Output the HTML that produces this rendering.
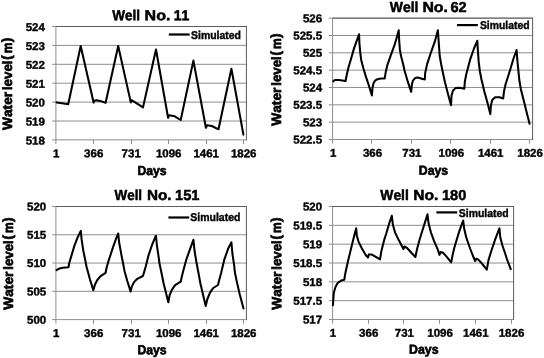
<!DOCTYPE html>
<html><head><meta charset="utf-8"><title>Simulated water level</title>
<style>
html,body{margin:0;padding:0;background:#fff;}
svg{display:block;}
text{font-family:"Liberation Sans", sans-serif;font-weight:bold;fill:#000;stroke:#000;font-kerning:none;text-rendering:geometricPrecision;}

</style></head>
<body>
<svg width="544" height="358" viewBox="0 0 544 358">
<rect x="0" y="0" width="544" height="358" fill="#fff"/>
<line x1="52.10" y1="26.50" x2="246.4" y2="26.50" stroke="#8e8e8e" stroke-width="1"/>
<line x1="52.10" y1="45.40" x2="246.4" y2="45.40" stroke="#8e8e8e" stroke-width="1"/>
<line x1="52.10" y1="64.30" x2="246.4" y2="64.30" stroke="#8e8e8e" stroke-width="1"/>
<line x1="52.10" y1="83.20" x2="246.4" y2="83.20" stroke="#8e8e8e" stroke-width="1"/>
<line x1="52.10" y1="102.10" x2="246.4" y2="102.10" stroke="#8e8e8e" stroke-width="1"/>
<line x1="52.10" y1="121.00" x2="246.4" y2="121.00" stroke="#8e8e8e" stroke-width="1"/>
<line x1="52.10" y1="139.90" x2="246.4" y2="139.90" stroke="#8e8e8e" stroke-width="1"/>
<line x1="55.9" y1="26.5" x2="55.9" y2="139.9" stroke="#8e8e8e" stroke-width="1"/>
<line x1="246.4" y1="26.0" x2="246.4" y2="140.4" stroke="#5c5c5c" stroke-width="1"/>
<line x1="55.9" y1="26.5" x2="246.4" y2="26.5" stroke="#5c5c5c" stroke-width="1"/>
<line x1="55.90" y1="139.9" x2="55.90" y2="144.0" stroke="#8c8c8c" stroke-width="1"/>
<text transform="translate(53.00,157.25) rotate(0.03)" font-size="11.3" stroke-width="0.4" textLength="6.40" lengthAdjust="spacingAndGlyphs">1</text>
<line x1="93.50" y1="139.9" x2="93.50" y2="144.0" stroke="#8c8c8c" stroke-width="1"/>
<text transform="translate(84.10,157.25) rotate(0.03)" font-size="11.3" stroke-width="0.4" textLength="19.20" lengthAdjust="spacingAndGlyphs">366</text>
<line x1="131.50" y1="139.9" x2="131.50" y2="144.0" stroke="#8c8c8c" stroke-width="1"/>
<text transform="translate(121.60,157.25) rotate(0.03)" font-size="11.3" stroke-width="0.4" textLength="19.20" lengthAdjust="spacingAndGlyphs">731</text>
<line x1="168.50" y1="139.9" x2="168.50" y2="144.0" stroke="#8c8c8c" stroke-width="1"/>
<text transform="translate(155.90,157.25) rotate(0.03)" font-size="11.3" stroke-width="0.4" textLength="25.60" lengthAdjust="spacingAndGlyphs">1096</text>
<line x1="206.50" y1="139.9" x2="206.50" y2="144.0" stroke="#8c8c8c" stroke-width="1"/>
<text transform="translate(193.40,157.25) rotate(0.03)" font-size="11.3" stroke-width="0.4" textLength="25.60" lengthAdjust="spacingAndGlyphs">1461</text>
<line x1="243.50" y1="139.9" x2="243.50" y2="144.0" stroke="#8c8c8c" stroke-width="1"/>
<text transform="translate(230.90,157.25) rotate(0.03)" font-size="11.3" stroke-width="0.4" textLength="25.60" lengthAdjust="spacingAndGlyphs">1826</text>
<text transform="translate(25.70,31.00) rotate(0.03)" font-size="11.3" stroke-width="0.4" textLength="19.20" lengthAdjust="spacingAndGlyphs">524</text>
<text transform="translate(25.70,50.00) rotate(0.03)" font-size="11.3" stroke-width="0.4" textLength="19.20" lengthAdjust="spacingAndGlyphs">523</text>
<text transform="translate(25.70,68.75) rotate(0.03)" font-size="11.3" stroke-width="0.4" textLength="19.20" lengthAdjust="spacingAndGlyphs">522</text>
<text transform="translate(25.70,87.75) rotate(0.03)" font-size="11.3" stroke-width="0.4" textLength="19.20" lengthAdjust="spacingAndGlyphs">521</text>
<text transform="translate(25.70,106.50) rotate(0.03)" font-size="11.3" stroke-width="0.4" textLength="19.20" lengthAdjust="spacingAndGlyphs">520</text>
<text transform="translate(25.70,125.50) rotate(0.03)" font-size="11.3" stroke-width="0.4" textLength="19.20" lengthAdjust="spacingAndGlyphs">519</text>
<text transform="translate(25.70,144.50) rotate(0.03)" font-size="11.3" stroke-width="0.4" textLength="19.20" lengthAdjust="spacingAndGlyphs">518</text>
<text transform="translate(112.14,20.25) rotate(0.03)" font-size="14.4" stroke-width="0.5"><tspan x="0.00" textLength="27.77" lengthAdjust="spacingAndGlyphs">Well</tspan> <tspan x="32.44" textLength="25.77" lengthAdjust="spacingAndGlyphs">No.</tspan> <tspan x="61.63" textLength="15.57" lengthAdjust="spacingAndGlyphs">11</tspan></text>
<text transform="translate(137.41,175.00) rotate(0.03)" font-size="13.0" stroke-width="0.65" textLength="29.17" lengthAdjust="spacingAndGlyphs">Days</text>
<text transform="translate(12.00,84.00) rotate(-89.97)" font-size="13.5" stroke-width="0.65"><tspan x="-45.99" y="0.00" textLength="38.07" lengthAdjust="spacingAndGlyphs">Water</tspan> <tspan x="-6.10" y="0.00" textLength="29.62" lengthAdjust="spacingAndGlyphs">level</tspan> <tspan x="24.13" y="-0.75">(</tspan><tspan x="30.63" y="0.00" textLength="10.69" lengthAdjust="spacingAndGlyphs">m</tspan><tspan x="41.78" y="-0.75">)</tspan></text>
<line x1="168.8" y1="34.5" x2="189.60000000000002" y2="34.5" stroke="#000" stroke-width="2.2"/>
<text transform="translate(191.00,39.00) rotate(0.03)" font-size="11.3" stroke-width="0.4" textLength="49.99" lengthAdjust="spacingAndGlyphs">Simulated</text>
<polyline points="56.6,102.4 62.1,103.2 68.2,104.3 80.7,46.0 93.6,102.6 94.2,100.7 96.7,100.3 100.0,100.9 105.6,102.8 118.2,46.0 130.8,102.4 131.6,100.2 143.0,107.4 156.0,49.5 168.1,117.8 169.2,115.3 174.8,116.3 180.7,120.0 193.4,60.6 205.9,127.8 207.0,125.3 211.9,126.0 218.5,129.3 231.4,68.7 243.4,134.6" fill="none" stroke="#000" stroke-width="2.05" stroke-linejoin="round" stroke-linecap="round"/>
<line x1="328.80" y1="18.15" x2="532.6" y2="18.15" stroke="#8e8e8e" stroke-width="1"/>
<line x1="328.80" y1="35.49" x2="532.6" y2="35.49" stroke="#8e8e8e" stroke-width="1"/>
<line x1="328.80" y1="52.82" x2="532.6" y2="52.82" stroke="#8e8e8e" stroke-width="1"/>
<line x1="328.80" y1="70.16" x2="532.6" y2="70.16" stroke="#8e8e8e" stroke-width="1"/>
<line x1="328.80" y1="87.49" x2="532.6" y2="87.49" stroke="#8e8e8e" stroke-width="1"/>
<line x1="328.80" y1="104.83" x2="532.6" y2="104.83" stroke="#8e8e8e" stroke-width="1"/>
<line x1="328.80" y1="122.16" x2="532.6" y2="122.16" stroke="#8e8e8e" stroke-width="1"/>
<line x1="328.80" y1="139.50" x2="532.6" y2="139.50" stroke="#8e8e8e" stroke-width="1"/>
<line x1="332.6" y1="18.15" x2="332.6" y2="139.5" stroke="#8e8e8e" stroke-width="1"/>
<line x1="532.6" y1="17.65" x2="532.6" y2="140.0" stroke="#5c5c5c" stroke-width="1"/>
<line x1="332.6" y1="18.15" x2="532.6" y2="18.15" stroke="#5c5c5c" stroke-width="1"/>
<line x1="332.60" y1="139.5" x2="332.60" y2="143.6" stroke="#8c8c8c" stroke-width="1"/>
<text transform="translate(329.90,156.75) rotate(0.03)" font-size="11.3" stroke-width="0.4" textLength="6.40" lengthAdjust="spacingAndGlyphs">1</text>
<line x1="371.50" y1="139.5" x2="371.50" y2="143.6" stroke="#8c8c8c" stroke-width="1"/>
<text transform="translate(362.90,156.75) rotate(0.03)" font-size="11.3" stroke-width="0.4" textLength="19.20" lengthAdjust="spacingAndGlyphs">366</text>
<line x1="411.50" y1="139.5" x2="411.50" y2="143.6" stroke="#8c8c8c" stroke-width="1"/>
<text transform="translate(402.30,156.75) rotate(0.03)" font-size="11.3" stroke-width="0.4" textLength="19.20" lengthAdjust="spacingAndGlyphs">731</text>
<line x1="450.50" y1="139.5" x2="450.50" y2="143.6" stroke="#8c8c8c" stroke-width="1"/>
<text transform="translate(438.50,156.75) rotate(0.03)" font-size="11.3" stroke-width="0.4" textLength="25.60" lengthAdjust="spacingAndGlyphs">1096</text>
<line x1="490.50" y1="139.5" x2="490.50" y2="143.6" stroke="#8c8c8c" stroke-width="1"/>
<text transform="translate(477.90,156.75) rotate(0.03)" font-size="11.3" stroke-width="0.4" textLength="25.60" lengthAdjust="spacingAndGlyphs">1461</text>
<line x1="529.50" y1="139.5" x2="529.50" y2="143.6" stroke="#8c8c8c" stroke-width="1"/>
<text transform="translate(517.30,156.75) rotate(0.03)" font-size="11.3" stroke-width="0.4" textLength="25.60" lengthAdjust="spacingAndGlyphs">1826</text>
<text transform="translate(302.90,22.25) rotate(0.03)" font-size="11.3" stroke-width="0.4" textLength="19.20" lengthAdjust="spacingAndGlyphs">526</text>
<text transform="translate(293.30,39.50) rotate(0.03)" font-size="11.3" stroke-width="0.4" textLength="28.80" lengthAdjust="spacingAndGlyphs">525.5</text>
<text transform="translate(302.90,56.75) rotate(0.03)" font-size="11.3" stroke-width="0.4" textLength="19.20" lengthAdjust="spacingAndGlyphs">525</text>
<text transform="translate(293.30,74.25) rotate(0.03)" font-size="11.3" stroke-width="0.4" textLength="28.80" lengthAdjust="spacingAndGlyphs">524.5</text>
<text transform="translate(302.90,91.50) rotate(0.03)" font-size="11.3" stroke-width="0.4" textLength="19.20" lengthAdjust="spacingAndGlyphs">524</text>
<text transform="translate(293.30,108.75) rotate(0.03)" font-size="11.3" stroke-width="0.4" textLength="28.80" lengthAdjust="spacingAndGlyphs">523.5</text>
<text transform="translate(302.90,126.25) rotate(0.03)" font-size="11.3" stroke-width="0.4" textLength="19.20" lengthAdjust="spacingAndGlyphs">523</text>
<text transform="translate(293.30,143.50) rotate(0.03)" font-size="11.3" stroke-width="0.4" textLength="28.80" lengthAdjust="spacingAndGlyphs">522.5</text>
<text transform="translate(389.84,12.00) rotate(0.03)" font-size="14.4" stroke-width="0.5"><tspan x="0.00" textLength="28.60" lengthAdjust="spacingAndGlyphs">Well</tspan> <tspan x="32.55" textLength="25.55" lengthAdjust="spacingAndGlyphs">No.</tspan> <tspan x="60.68" textLength="16.22" lengthAdjust="spacingAndGlyphs">62</tspan></text>
<text transform="translate(418.80,174.75) rotate(0.03)" font-size="13.0" stroke-width="0.65" textLength="29.38" lengthAdjust="spacingAndGlyphs">Days</text>
<text transform="translate(281.00,79.70) rotate(-89.97)" font-size="13.5" stroke-width="0.65"><tspan x="-45.99" y="0.00" textLength="38.07" lengthAdjust="spacingAndGlyphs">Water</tspan> <tspan x="-6.10" y="0.00" textLength="29.62" lengthAdjust="spacingAndGlyphs">level</tspan> <tspan x="24.13" y="-0.75">(</tspan><tspan x="30.63" y="0.00" textLength="10.69" lengthAdjust="spacingAndGlyphs">m</tspan><tspan x="41.78" y="-0.75">)</tspan></text>
<line x1="457.0" y1="25.1" x2="477.8" y2="25.1" stroke="#000" stroke-width="2.2"/>
<text transform="translate(479.90,29.00) rotate(0.03)" font-size="11.3" stroke-width="0.4" textLength="49.63" lengthAdjust="spacingAndGlyphs">Simulated</text>
<polyline points="333.3,81.5 334.0,80.5 335.6,79.9 338.9,79.9 342.3,80.4 345.6,81.0 346.8,74.5 348.4,67.8 350.7,60.0 354.1,48.1 359.1,34.2 359.4,43.0 360.3,53.0 361.2,60.0 363.6,69.0 366.3,77.9 369.1,86.2 371.9,95.5 372.5,87.9 373.6,82.9 375.3,80.4 378.0,79.0 381.4,78.4 384.7,78.4 385.9,71.2 387.6,64.3 391.2,54.2 394.5,45.2 396.8,37.4 398.7,30.3 399.2,40.8 399.9,49.7 401.1,56.2 403.1,64.0 404.5,70.5 407.8,81.7 411.2,91.8 411.8,85.1 412.9,80.6 415.1,78.1 417.9,77.6 421.8,78.7 424.8,79.5 425.2,72.8 427.2,63.9 430.6,53.5 434.7,41.9 437.9,30.3 439.0,46.3 439.7,56.0 441.2,64.5 443.0,73.2 445.1,82.8 448.2,94.8 451.0,105.2 451.5,95.7 452.9,90.7 455.7,87.9 460.1,87.7 464.3,88.7 464.9,81.2 466.3,74.3 470.1,59.7 474.0,48.5 477.3,40.7 477.9,50.8 478.7,61.9 479.9,71.5 481.5,79.5 484.4,91.8 487.7,103.6 490.3,114.1 490.9,105.7 492.2,100.1 495.1,97.3 499.6,97.3 503.2,98.4 504.0,91.2 505.6,84.3 510.2,69.7 513.5,58.5 516.6,50.0 517.4,60.8 518.5,71.9 519.3,80.0 520.8,88.9 523.6,100.1 526.4,111.3 528.6,120.0 529.5,123.8" fill="none" stroke="#000" stroke-width="2.05" stroke-linejoin="round" stroke-linecap="round"/>
<line x1="52.10" y1="206.50" x2="246.4" y2="206.50" stroke="#8e8e8e" stroke-width="1"/>
<line x1="52.10" y1="234.78" x2="246.4" y2="234.78" stroke="#8e8e8e" stroke-width="1"/>
<line x1="52.10" y1="263.05" x2="246.4" y2="263.05" stroke="#8e8e8e" stroke-width="1"/>
<line x1="52.10" y1="291.33" x2="246.4" y2="291.33" stroke="#8e8e8e" stroke-width="1"/>
<line x1="52.10" y1="319.60" x2="246.4" y2="319.60" stroke="#8e8e8e" stroke-width="1"/>
<line x1="55.9" y1="206.5" x2="55.9" y2="319.6" stroke="#8e8e8e" stroke-width="1"/>
<line x1="246.4" y1="206.0" x2="246.4" y2="320.1" stroke="#5c5c5c" stroke-width="1"/>
<line x1="55.9" y1="206.5" x2="246.4" y2="206.5" stroke="#5c5c5c" stroke-width="1"/>
<line x1="55.90" y1="319.6" x2="55.90" y2="323.70000000000005" stroke="#8c8c8c" stroke-width="1"/>
<text transform="translate(53.00,337.00) rotate(0.03)" font-size="11.3" stroke-width="0.4" textLength="6.40" lengthAdjust="spacingAndGlyphs">1</text>
<line x1="93.50" y1="319.6" x2="93.50" y2="323.70000000000005" stroke="#8c8c8c" stroke-width="1"/>
<text transform="translate(84.10,337.00) rotate(0.03)" font-size="11.3" stroke-width="0.4" textLength="19.20" lengthAdjust="spacingAndGlyphs">366</text>
<line x1="131.50" y1="319.6" x2="131.50" y2="323.70000000000005" stroke="#8c8c8c" stroke-width="1"/>
<text transform="translate(121.60,337.00) rotate(0.03)" font-size="11.3" stroke-width="0.4" textLength="19.20" lengthAdjust="spacingAndGlyphs">731</text>
<line x1="168.50" y1="319.6" x2="168.50" y2="323.70000000000005" stroke="#8c8c8c" stroke-width="1"/>
<text transform="translate(155.90,337.00) rotate(0.03)" font-size="11.3" stroke-width="0.4" textLength="25.60" lengthAdjust="spacingAndGlyphs">1096</text>
<line x1="206.50" y1="319.6" x2="206.50" y2="323.70000000000005" stroke="#8c8c8c" stroke-width="1"/>
<text transform="translate(193.40,337.00) rotate(0.03)" font-size="11.3" stroke-width="0.4" textLength="25.60" lengthAdjust="spacingAndGlyphs">1461</text>
<line x1="243.50" y1="319.6" x2="243.50" y2="323.70000000000005" stroke="#8c8c8c" stroke-width="1"/>
<text transform="translate(230.90,337.00) rotate(0.03)" font-size="11.3" stroke-width="0.4" textLength="25.60" lengthAdjust="spacingAndGlyphs">1826</text>
<text transform="translate(27.00,210.50) rotate(0.03)" font-size="11.3" stroke-width="0.4" textLength="19.20" lengthAdjust="spacingAndGlyphs">520</text>
<text transform="translate(27.00,238.75) rotate(0.03)" font-size="11.3" stroke-width="0.4" textLength="19.20" lengthAdjust="spacingAndGlyphs">515</text>
<text transform="translate(27.00,267.00) rotate(0.03)" font-size="11.3" stroke-width="0.4" textLength="19.20" lengthAdjust="spacingAndGlyphs">510</text>
<text transform="translate(27.00,295.50) rotate(0.03)" font-size="11.3" stroke-width="0.4" textLength="19.20" lengthAdjust="spacingAndGlyphs">505</text>
<text transform="translate(27.00,323.75) rotate(0.03)" font-size="11.3" stroke-width="0.4" textLength="19.20" lengthAdjust="spacingAndGlyphs">500</text>
<text transform="translate(114.54,200.00) rotate(0.03)" font-size="14.4" stroke-width="0.5"><tspan x="0.00" textLength="27.56" lengthAdjust="spacingAndGlyphs">Well</tspan> <tspan x="32.49" textLength="24.57" lengthAdjust="spacingAndGlyphs">No.</tspan> <tspan x="60.49" textLength="24.43" lengthAdjust="spacingAndGlyphs">151</tspan></text>
<text transform="translate(137.41,354.25) rotate(0.03)" font-size="13.0" stroke-width="0.65" textLength="29.17" lengthAdjust="spacingAndGlyphs">Days</text>
<text transform="translate(13.00,263.70) rotate(-89.97)" font-size="13.5" stroke-width="0.65"><tspan x="-45.99" y="0.00" textLength="38.07" lengthAdjust="spacingAndGlyphs">Water</tspan> <tspan x="-6.10" y="0.00" textLength="29.62" lengthAdjust="spacingAndGlyphs">level</tspan> <tspan x="24.13" y="-0.75">(</tspan><tspan x="30.63" y="0.00" textLength="10.69" lengthAdjust="spacingAndGlyphs">m</tspan><tspan x="41.78" y="-0.75">)</tspan></text>
<line x1="168.4" y1="217.5" x2="189.20000000000002" y2="217.5" stroke="#000" stroke-width="2.2"/>
<text transform="translate(190.30,221.25) rotate(0.03)" font-size="11.3" stroke-width="0.4" textLength="50.14" lengthAdjust="spacingAndGlyphs">Simulated</text>
<polyline points="56.6,270.1 58.7,268.8 62.6,267.7 68.5,267.2 69.3,262.7 71.3,256.1 74.3,246.1 77.7,237.2 80.8,230.9 81.6,239.4 83.3,250.6 85.5,261.5 86.6,267.0 90.0,279.5 93.3,290.1 95.0,284.5 97.3,280.0 100.6,276.1 105.6,272.8 106.7,267.2 108.2,262.0 110.1,256.1 113.4,246.1 116.2,238.3 118.2,233.5 119.2,242.8 121.2,253.9 122.9,262.5 124.5,270.9 127.3,281.0 130.6,291.6 131.8,286.6 134.0,282.1 137.3,278.8 142.9,276.0 144.1,272.1 145.8,266.2 148.6,255.1 152.0,245.0 155.9,235.7 157.0,246.1 158.7,257.3 159.5,263.5 161.0,270.5 163.7,283.8 166.4,294.4 168.3,302.3 169.5,295.7 171.7,290.1 175.1,285.1 180.7,281.7 181.8,276.7 183.2,271.0 186.2,259.9 190.1,248.8 193.4,239.8 194.6,251.0 196.2,261.0 198.1,271.0 200.4,283.5 203.0,294.6 205.7,306.0 207.4,299.0 209.9,292.8 213.2,288.0 218.0,285.0 219.1,280.5 221.0,273.5 224.2,259.9 228.1,248.8 231.4,242.3 232.5,254.3 234.2,265.5 234.8,272.0 236.9,282.1 239.7,294.3 243.5,308.4" fill="none" stroke="#000" stroke-width="2.05" stroke-linejoin="round" stroke-linecap="round"/>
<line x1="328.80" y1="206.50" x2="513.6" y2="206.50" stroke="#8e8e8e" stroke-width="1"/>
<line x1="328.80" y1="225.33" x2="513.6" y2="225.33" stroke="#8e8e8e" stroke-width="1"/>
<line x1="328.80" y1="244.17" x2="513.6" y2="244.17" stroke="#8e8e8e" stroke-width="1"/>
<line x1="328.80" y1="263.00" x2="513.6" y2="263.00" stroke="#8e8e8e" stroke-width="1"/>
<line x1="328.80" y1="281.83" x2="513.6" y2="281.83" stroke="#8e8e8e" stroke-width="1"/>
<line x1="328.80" y1="300.67" x2="513.6" y2="300.67" stroke="#8e8e8e" stroke-width="1"/>
<line x1="328.80" y1="319.50" x2="513.6" y2="319.50" stroke="#8e8e8e" stroke-width="1"/>
<line x1="332.6" y1="206.5" x2="332.6" y2="319.5" stroke="#8e8e8e" stroke-width="1"/>
<line x1="513.6" y1="206.0" x2="513.6" y2="320.0" stroke="#5c5c5c" stroke-width="1"/>
<line x1="332.6" y1="206.5" x2="513.6" y2="206.5" stroke="#5c5c5c" stroke-width="1"/>
<line x1="332.60" y1="319.5" x2="332.60" y2="323.6" stroke="#8c8c8c" stroke-width="1"/>
<text transform="translate(329.80,336.75) rotate(0.03)" font-size="11.3" stroke-width="0.4" textLength="6.40" lengthAdjust="spacingAndGlyphs">1</text>
<line x1="368.50" y1="319.5" x2="368.50" y2="323.6" stroke="#8c8c8c" stroke-width="1"/>
<text transform="translate(359.10,336.75) rotate(0.03)" font-size="11.3" stroke-width="0.4" textLength="19.20" lengthAdjust="spacingAndGlyphs">366</text>
<line x1="403.50" y1="319.5" x2="403.50" y2="323.6" stroke="#8c8c8c" stroke-width="1"/>
<text transform="translate(394.80,336.75) rotate(0.03)" font-size="11.3" stroke-width="0.4" textLength="19.20" lengthAdjust="spacingAndGlyphs">731</text>
<line x1="439.50" y1="319.5" x2="439.50" y2="323.6" stroke="#8c8c8c" stroke-width="1"/>
<text transform="translate(427.30,336.75) rotate(0.03)" font-size="11.3" stroke-width="0.4" textLength="25.60" lengthAdjust="spacingAndGlyphs">1096</text>
<line x1="475.50" y1="319.5" x2="475.50" y2="323.6" stroke="#8c8c8c" stroke-width="1"/>
<text transform="translate(463.00,336.75) rotate(0.03)" font-size="11.3" stroke-width="0.4" textLength="25.60" lengthAdjust="spacingAndGlyphs">1461</text>
<line x1="511.50" y1="319.5" x2="511.50" y2="323.6" stroke="#8c8c8c" stroke-width="1"/>
<text transform="translate(498.70,336.75) rotate(0.03)" font-size="11.3" stroke-width="0.4" textLength="25.60" lengthAdjust="spacingAndGlyphs">1826</text>
<text transform="translate(302.90,210.50) rotate(0.03)" font-size="11.3" stroke-width="0.4" textLength="19.20" lengthAdjust="spacingAndGlyphs">520</text>
<text transform="translate(293.30,229.50) rotate(0.03)" font-size="11.3" stroke-width="0.4" textLength="28.80" lengthAdjust="spacingAndGlyphs">519.5</text>
<text transform="translate(302.90,248.25) rotate(0.03)" font-size="11.3" stroke-width="0.4" textLength="19.20" lengthAdjust="spacingAndGlyphs">519</text>
<text transform="translate(293.30,267.00) rotate(0.03)" font-size="11.3" stroke-width="0.4" textLength="28.80" lengthAdjust="spacingAndGlyphs">518.5</text>
<text transform="translate(302.90,286.00) rotate(0.03)" font-size="11.3" stroke-width="0.4" textLength="19.20" lengthAdjust="spacingAndGlyphs">518</text>
<text transform="translate(293.30,304.75) rotate(0.03)" font-size="11.3" stroke-width="0.4" textLength="28.80" lengthAdjust="spacingAndGlyphs">517.5</text>
<text transform="translate(302.90,323.50) rotate(0.03)" font-size="11.3" stroke-width="0.4" textLength="19.20" lengthAdjust="spacingAndGlyphs">517</text>
<text transform="translate(380.34,200.00) rotate(0.03)" font-size="14.4" stroke-width="0.5"><tspan x="0.00" textLength="28.49" lengthAdjust="spacingAndGlyphs">Well</tspan> <tspan x="32.97" textLength="25.12" lengthAdjust="spacingAndGlyphs">No.</tspan> <tspan x="61.59" textLength="24.42" lengthAdjust="spacingAndGlyphs">180</tspan></text>
<text transform="translate(409.10,353.75) rotate(0.03)" font-size="13.0" stroke-width="0.65" textLength="29.48" lengthAdjust="spacingAndGlyphs">Days</text>
<text transform="translate(281.25,263.70) rotate(-89.97)" font-size="13.5" stroke-width="0.65"><tspan x="-45.99" y="0.00" textLength="38.07" lengthAdjust="spacingAndGlyphs">Water</tspan> <tspan x="-6.10" y="0.00" textLength="29.62" lengthAdjust="spacingAndGlyphs">level</tspan> <tspan x="24.13" y="-0.75">(</tspan><tspan x="30.63" y="0.00" textLength="10.69" lengthAdjust="spacingAndGlyphs">m</tspan><tspan x="41.78" y="-0.75">)</tspan></text>
<line x1="436.4" y1="212.4" x2="457.2" y2="212.4" stroke="#000" stroke-width="2.2"/>
<text transform="translate(458.80,216.75) rotate(0.03)" font-size="11.3" stroke-width="0.4" textLength="49.89" lengthAdjust="spacingAndGlyphs">Simulated</text>
<polyline points="332.9,305.2 333.4,297.9 333.9,292.3 335.6,286.8 337.8,282.8 341.2,280.6 344.3,279.8 344.9,275.6 346.0,270.0 347.8,262.0 351.8,245.5 354.6,234.3 356.2,228.3 356.8,235.4 358.5,241.6 361.8,248.3 365.7,255.0 368.0,257.5 368.9,254.4 371.9,254.6 376.3,257.2 380.0,259.4 381.4,251.1 384.2,239.9 386.2,233.7 389.5,222.5 391.8,215.8 392.9,224.8 395.1,232.6 399.0,240.6 402.4,247.1 403.4,249.0 404.5,246.5 407.3,248.2 411.8,253.2 415.4,257.1 417.2,248.5 419.5,240.0 422.0,231.8 425.3,221.4 427.5,214.3 428.6,223.6 430.9,232.3 434.1,241.2 437.5,248.8 439.5,254.9 440.6,252.1 443.0,252.7 447.0,257.1 451.2,262.4 452.6,255.0 454.2,248.3 456.6,240.0 459.1,231.9 461.2,225.8 463.2,220.6 464.2,228.8 466.2,237.2 468.0,242.5 470.1,248.5 472.6,255.0 475.1,261.0 476.2,258.8 478.4,259.6 482.3,264.0 486.8,269.6 488.5,260.1 491.3,251.0 495.2,239.4 499.4,228.4 500.3,237.5 502.6,246.0 505.0,253.0 506.9,259.0 510.7,269.1" fill="none" stroke="#000" stroke-width="2.05" stroke-linejoin="round" stroke-linecap="round"/>
</svg>
</body></html>
